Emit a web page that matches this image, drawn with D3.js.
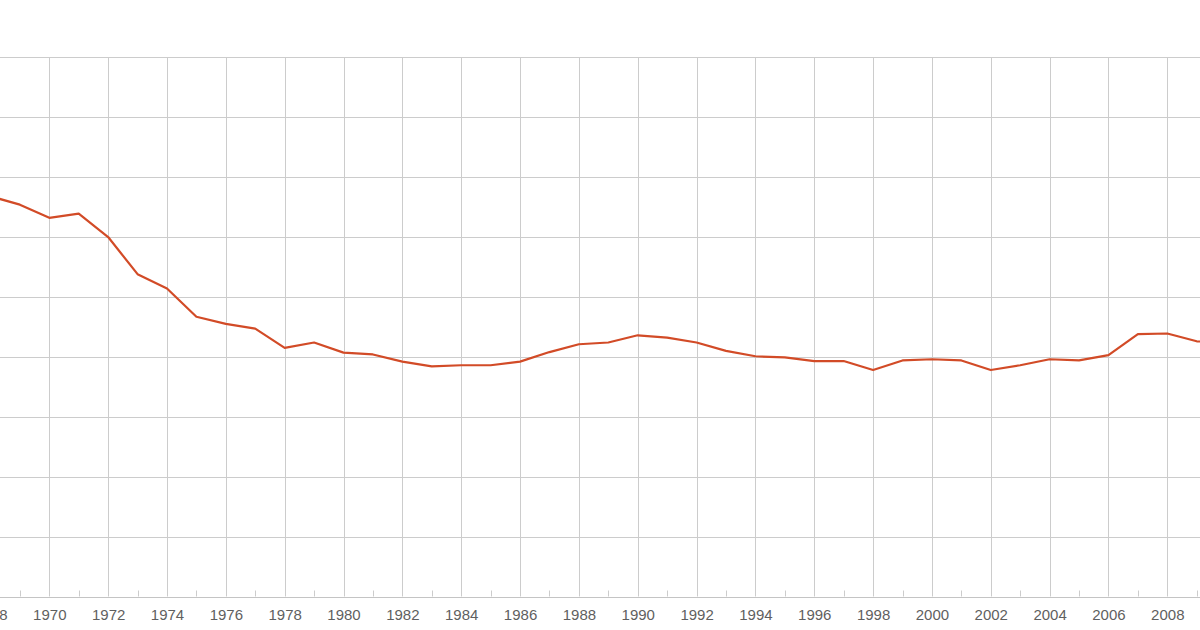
<!DOCTYPE html>
<html>
<head>
<meta charset="utf-8">
<script src="https://cdn.jsdelivr.net/npm/d3@7"></script>
<style>
html, body { margin: 0; padding: 0; background: #fff; }
svg { display: block; }
</style>
</head>
<body>
<script>
// Data (units relative to the gridlines)
const years = [1968, 1969, 1970, 1971, 1972, 1973, 1974, 1975, 1976, 1977, 1978, 1979,
  1980, 1981, 1982, 1983, 1984, 1985, 1986, 1987, 1988, 1989, 1990, 1991, 1992, 1993,
  1994, 1995, 1996, 1997, 1998, 1999, 2000, 2001, 2002, 2003, 2004, 2005, 2006, 2007,
  2008, 2009, 2010];
const values = [66.8, 65.4, 63.2, 63.9, 60.0, 53.8, 51.4, 46.7, 45.5, 44.7, 41.5, 42.4,
  40.7, 40.4, 39.2, 38.4, 38.6, 38.6, 39.2, 40.8, 42.1, 42.4, 43.6, 43.2, 42.4, 41.0,
  40.1, 39.9, 39.3, 39.3, 37.8, 39.4, 39.6, 39.4, 37.8, 38.6, 39.6, 39.4, 40.3, 43.8,
  43.9, 42.6, 42.3];
const yTicks = [0, 10, 20, 30, 40, 50, 60, 70, 80, 90];
const xLabelYears = [1968, 1970, 1972, 1974, 1976, 1978, 1980, 1982, 1984, 1986, 1988,
  1990, 1992, 1994, 1996, 1998, 2000, 2002, 2004, 2006, 2008];
const minorYears = [1969, 1971, 1973, 1975, 1977, 1979, 1981, 1983, 1985, 1987, 1989,
  1991, 1993, 1995, 1997, 1999, 2001, 2003, 2005, 2007, 2009];

const W = 1200, H = 630;
const svg = d3.select("body").append("svg").attr("width", W).attr("height", H);

const x = d3.scaleLinear().domain([1970, 2008]).range([49.3, 1167.3]);
const y = d3.scaleLinear().domain([0, 90]).range([596.5, 57.3]);

// horizontal gridlines
svg.append("g").selectAll("line").data(yTicks.slice(1)).join("line")
  .attr("x1", 0).attr("x2", W)
  .attr("y1", d => Math.round(y(d)) + 0.5).attr("y2", d => Math.round(y(d)) + 0.5)
  .attr("stroke", "#cccccc").attr("stroke-width", 1);

// vertical gridlines at even years
svg.append("g").selectAll("line").data(xLabelYears).join("line")
  .attr("x1", d => Math.round(x(d)) + 0.5).attr("x2", d => Math.round(x(d)) + 0.5)
  .attr("y1", y(90)).attr("y2", y(0))
  .attr("stroke", "#cccccc").attr("stroke-width", 1);

// x axis
const axis = d3.axisBottom(x).tickValues(xLabelYears).tickFormat(d3.format("d"))
  .tickSize(0).tickPadding(12);
const gx = svg.append("g").attr("transform", `translate(0,${Math.round(y(0)) + 0.5})`).call(axis);
gx.select(".domain").remove();
gx.selectAll("text").attr("font-family", "'Liberation Sans', Arial, sans-serif")
  .attr("font-size", "15px").attr("fill", "#5f5f5f");
svg.append("line").attr("x1", 0).attr("x2", W)
  .attr("y1", Math.round(y(0)) + 0.5).attr("y2", Math.round(y(0)) + 0.5)
  .attr("stroke", "#c4c4c4");

// minor ticks at odd years
svg.append("g").selectAll("line").data(minorYears).join("line")
  .attr("x1", d => Math.round(x(d)) + 0.5).attr("x2", d => Math.round(x(d)) + 0.5)
  .attr("y1", y(0) - 6).attr("y2", y(0))
  .attr("stroke", "#cccccc");

// data line
const line = d3.line().x((d, i) => x(years[i])).y(d => y(d));
svg.append("path").datum(values)
  .attr("d", line)
  .attr("fill", "none")
  .attr("stroke", "#d24b27")
  .attr("stroke-width", 2.2)
  .attr("stroke-linejoin", "round");
</script>
</body>
</html>
